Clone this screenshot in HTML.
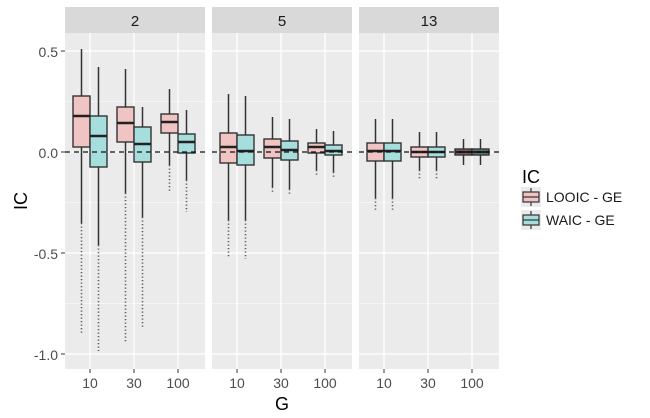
<!DOCTYPE html>
<html><head><meta charset="utf-8"><style>body{margin:0;background:#fff}svg{display:block}</style></head><body>
<svg width="650" height="418" viewBox="0 0 650 418" xmlns="http://www.w3.org/2000/svg" font-family="Liberation Sans, sans-serif">
<defs>
<g id="grid">
<rect x="0" y="33" width="140" height="336" fill="#ebebeb"/>
<g stroke="#fff" stroke-width="0.6"><line x1="0" x2="140" y1="101.5" y2="101.5"/><line x1="0" x2="140" y1="202.5" y2="202.5"/><line x1="0" x2="140" y1="303.5" y2="303.5"/></g>
<g stroke="#fff" stroke-width="1.3"><line x1="0" x2="140" y1="51" y2="51"/><line x1="0" x2="140" y1="152" y2="152"/><line x1="0" x2="140" y1="253" y2="253"/><line x1="0" x2="140" y1="354" y2="354"/>
<line x1="25" x2="25" y1="33" y2="369"/><line x1="69" x2="69" y1="33" y2="369"/><line x1="113" x2="113" y1="33" y2="369"/></g>
<rect x="0" y="7" width="140" height="26" fill="#d9d9d9"/>
<g stroke="#333" stroke-width="1"><line x1="25" x2="25" y1="369" y2="373"/><line x1="69" x2="69" y1="369" y2="373"/><line x1="113" x2="113" y1="369" y2="373"/></g>
<g font-size="14" fill="#4d4d4d" text-anchor="middle"><text x="25" y="388">10</text><text x="69" y="388">30</text><text x="113" y="388">100</text></g>
</g>
</defs>
<use href="#grid" x="65"/><use href="#grid" x="212"/><use href="#grid" x="359"/>
<g font-size="15" fill="#1a1a1a" text-anchor="middle"><text x="135" y="26">2</text><text x="282" y="26">5</text><text x="429" y="26">13</text></g>
<g font-size="14" fill="#4d4d4d" text-anchor="end"><text x="58" y="57">0.5</text><text x="58" y="158">0.0</text><text x="58" y="259">-0.5</text><text x="58" y="360">-1.0</text></g>
<g stroke="#333"><line x1="61" x2="65" y1="51" y2="51"/><line x1="61" x2="65" y1="152" y2="152"/><line x1="61" x2="65" y1="253" y2="253"/><line x1="61" x2="65" y1="354" y2="354"/></g>
<text x="0" y="0" font-size="18" transform="translate(27,201) rotate(-90)" text-anchor="middle">IC</text>
<text x="282" y="410" font-size="18" text-anchor="middle">G</text>

<g stroke="#444" stroke-width="1.6" stroke-dasharray="1.2,2.3" opacity="0.85">
<line x1="81.5" x2="81.5" y1="223" y2="333"/><line x1="98.5" x2="98.5" y1="245" y2="351"/>
<line x1="125.5" x2="125.5" y1="193" y2="343"/><line x1="142.5" x2="142.5" y1="217" y2="329"/>
<line x1="169.5" x2="169.5" y1="165" y2="191"/><line x1="186.5" x2="186.5" y1="180" y2="212"/>
<line x1="228.5" x2="228.5" y1="220" y2="258"/><line x1="245.5" x2="245.5" y1="220" y2="259"/>
<line x1="272.5" x2="272.5" y1="187" y2="194"/><line x1="289.5" x2="289.5" y1="189" y2="196"/>
<line x1="316.5" x2="316.5" y1="170" y2="176"/><line x1="333.5" x2="333.5" y1="172" y2="178"/>
<line x1="375.5" x2="375.5" y1="198" y2="212"/><line x1="392.5" x2="392.5" y1="198" y2="212"/>
<line x1="419.5" x2="419.5" y1="170" y2="180"/><line x1="436.5" x2="436.5" y1="170" y2="180"/>
</g>
<g stroke="#333" stroke-width="1.5">
<line x1="81.5" x2="81.5" y1="49" y2="223"/><line x1="98.5" x2="98.5" y1="67" y2="245"/>
<line x1="125.5" x2="125.5" y1="69" y2="193"/><line x1="142.5" x2="142.5" y1="107" y2="217"/>
<line x1="169.5" x2="169.5" y1="89" y2="165"/><line x1="186.5" x2="186.5" y1="110" y2="180"/>
<line x1="228.5" x2="228.5" y1="94" y2="220"/><line x1="245.5" x2="245.5" y1="96" y2="220"/>
<line x1="272.5" x2="272.5" y1="117" y2="187"/><line x1="289.5" x2="289.5" y1="119" y2="189"/>
<line x1="316.5" x2="316.5" y1="129" y2="170"/><line x1="333.5" x2="333.5" y1="131" y2="172"/>
<line x1="375.5" x2="375.5" y1="119" y2="198"/><line x1="392.5" x2="392.5" y1="119" y2="198"/>
<line x1="419.5" x2="419.5" y1="132" y2="170"/><line x1="436.5" x2="436.5" y1="132" y2="170"/>
<line x1="463.5" x2="463.5" y1="139" y2="165"/><line x1="480.5" x2="480.5" y1="139" y2="165"/>
</g>
<g stroke="#333" stroke-width="1.4">
<rect x="73" y="96" width="17" height="51" fill="#f0c4c2"/><rect x="90" y="116" width="17" height="51" fill="#a6dedd"/>
<rect x="117" y="107" width="17" height="35" fill="#f0c4c2"/><rect x="134" y="127" width="17" height="35" fill="#a6dedd"/>
<rect x="161" y="114" width="17" height="19" fill="#f0c4c2"/><rect x="178" y="134" width="17" height="19" fill="#a6dedd"/>
<rect x="220" y="133" width="17" height="30" fill="#f0c4c2"/><rect x="237" y="135" width="17" height="30" fill="#a6dedd"/>
<rect x="264" y="139" width="17" height="19" fill="#f0c4c2"/><rect x="281" y="141" width="17" height="19" fill="#a6dedd"/>
<rect x="308" y="143" width="17" height="10" fill="#f0c4c2"/><rect x="325" y="145" width="17" height="10" fill="#a6dedd"/>
<rect x="367" y="143" width="17" height="18" fill="#f0c4c2"/><rect x="384" y="143" width="17" height="18" fill="#a6dedd"/>
<rect x="411" y="147" width="17" height="10" fill="#f0c4c2"/><rect x="428" y="147" width="17" height="10" fill="#a6dedd"/>
<rect x="455" y="149" width="17" height="6" fill="#8a6e6d"/><rect x="472" y="149" width="17" height="6" fill="#6a8a89"/>
</g>
<g stroke="#222" stroke-width="2.4">
<line x1="73" x2="90" y1="116" y2="116"/><line x1="90" x2="107" y1="136" y2="136"/>
<line x1="117" x2="134" y1="123" y2="123"/><line x1="134" x2="151" y1="144" y2="144"/>
<line x1="161" x2="178" y1="122" y2="122"/><line x1="178" x2="195" y1="142" y2="142"/>
<line x1="220" x2="237" y1="147" y2="147"/><line x1="237" x2="254" y1="151" y2="151"/>
<line x1="264" x2="281" y1="147" y2="147"/><line x1="281" x2="298" y1="150" y2="150"/>
<line x1="308" x2="325" y1="147" y2="147"/><line x1="325" x2="342" y1="151" y2="151"/>
<line x1="367" x2="384" y1="151" y2="151"/><line x1="384" x2="401" y1="151" y2="151"/>
<line x1="411" x2="428" y1="152" y2="152"/><line x1="428" x2="445" y1="152" y2="152"/>
<line x1="455" x2="472" y1="152" y2="152"/><line x1="472" x2="489" y1="152" y2="152"/>
</g>
<g stroke="#111" stroke-width="1.3" stroke-dasharray="5,4">
<line x1="65" x2="205" y1="152" y2="152"/><line x1="212" x2="352" y1="152" y2="152"/><line x1="359" x2="499" y1="152" y2="152"/>
</g>
<text x="522" y="183" font-size="18">IC</text>
<rect x="521" y="187" width="20" height="20" fill="#ebebeb"/><rect x="521" y="210" width="20" height="20" fill="#ebebeb"/>
<g stroke="#333" stroke-width="1.2"><line x1="531" x2="531" y1="188" y2="206"/><rect x="523" y="192" width="16" height="10" fill="#f0c4c2"/><line x1="523" x2="539" y1="197" y2="197"/>
<line x1="531" x2="531" y1="211" y2="229"/><rect x="523" y="215" width="16" height="10" fill="#a6dedd"/><line x1="523" x2="539" y1="220" y2="220"/></g>
<g font-size="14" fill="#1a1a1a"><text x="546" y="202">LOOIC - GE</text><text x="546" y="225">WAIC - GE</text></g>
</svg>
</body></html>
